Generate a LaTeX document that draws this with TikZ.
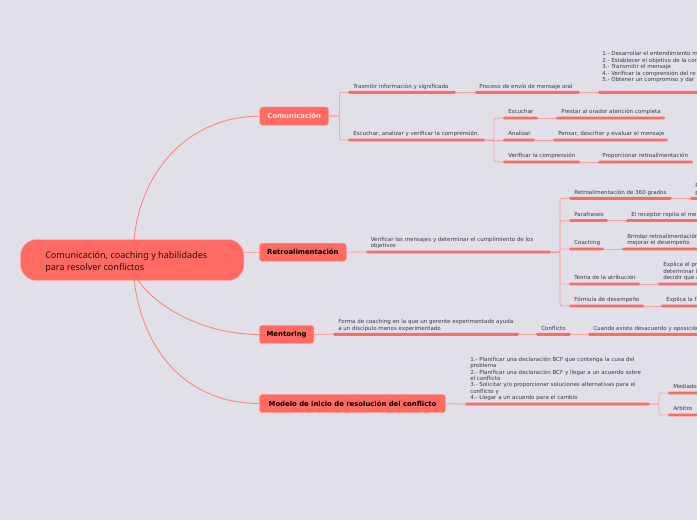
\documentclass[tikz,border=0pt]{standalone}
\usepackage{fontspec}
\setmainfont{DejaVu Sans}
\newfontfamily\titlefont{Noto Sans}
\definecolor{bgc}{HTML}{E1DFE8}
\definecolor{mainc}{HTML}{FF6B63}
\definecolor{linkc}{HTML}{FFA5A3}
\definecolor{curvec}{HTML}{FF7D76}
\definecolor{txtc}{HTML}{3C3A40}
\tikzset{
  bar/.style={fill=mainc,draw=none,rounded corners=1pt,inner sep=0pt,minimum height=2.2pt},
  leaftext/.style={anchor=south west,inner sep=0pt,align=left,text=txtc,font=\fontsize{4.15}{4.85}\selectfont,text depth=0.9pt},
  branch/.style={fill=mainc,draw=linkc,line width=0.3pt,rounded corners=2.2pt,inner sep=0pt,minimum height=13.8pt,font=\fontsize{5.15}{6}\selectfont\bfseries,text=black},
  link/.style={draw=linkc,line width=0.7pt,rounded corners=1.5pt},
  curve/.style={draw=curvec,line width=0.6pt}
}
\newcommand{\leaf}[6]{%
  \node[bar,minimum width={(#3-#2)*0.75pt}] (#1) at ({(#2+#3)/2},#4) {};
  \node[leaftext] (#1t) at (#5,#4-2.6) {#6};
}
\begin{document}
\begin{tikzpicture}[x=0.75pt,y=-0.75pt]
\useasboundingbox (0,0) rectangle (697,520);
\clip (0,0) rectangle (697,520);
\fill[bgc] (0,0) rectangle (697,520);
\coordinate (ra) at (134,241);
\coordinate (rb) at (134,279);
\coordinate (rc) at (137,279);
% root
\node[fill=mainc,draw=linkc,line width=0.3pt,rounded corners=12pt,minimum width=167.5pt,minimum height=30.7pt,inner sep=0pt] (root) at (132.25,260) {};
\node[anchor=west,inner sep=0pt,align=left,font=\titlefont\fontsize{6.8}{9}\selectfont,text=black!85!mainc] (roott) at (45,262) {Comunicación, coaching y habilidades\\para resolver conflictos};
% branches
\node[branch,minimum width=51.8pt,text=white!80!mainc] (b1) at (294.2,116.2) {Comunicación};
\node[branch,minimum width=65.2pt] (b2) at (302.9,252.3) {Retroalimentación};
\node[branch,minimum width=41pt] (b3) at (286.6,334.5) {Mentoring};
\node[branch,minimum width=139.6pt] (b4) at (352.5,403.5) {Modelo de inicio de resolución del conflicto};
\draw[curve] (ra) .. controls (140,170) and (190,116.2) .. (b1.west);
\draw[link] (root.east |- b2.west) -- (b2.west);
\draw[curve] (rc) .. controls (160,312) and (210,334.5) .. (b3.west);
\draw[curve] (rb) .. controls (143,355) and (190,403.5) .. (b4.west);
% Comunicacion
\leaf{c1}{348}{456}{92.3}{353}{Trasmitir información y significado}
\leaf{c2}{475}{580}{92.3}{479}{Proceso de envío de mensaje oral}
\leaf{c3}{598}{720}{92.3}{602}{1.- Desarrollar el entendimiento m\\2.- Establecer el objetivo de la cor\\3.- Transmitir el mensaje\\4.- Verificar la comprensión del re\\5.- Obtener un compromiso y dar\\\mbox{}}
\leaf{c4}{348}{485}{140}{353}{Escuchar, analizar y verificar la comprensión.}
\leaf{c5}{503}{538}{118}{508}{Escuchar}
\leaf{c6}{556}{665}{118}{561}{Prestar al orador atención completa}
\leaf{c7}{503}{535}{140}{508}{Analizar}
\leaf{c8}{553}{668}{140}{558}{Pensar, descifrar y evaluar el mensaje}
\leaf{c9}{503}{580}{162}{508}{Verificar la comprensión}
\leaf{c10}{598}{693}{162}{602}{Proporcionar retroalimentación}
% Retroalimentacion
\leaf{r0}{366}{551}{252}{370.5}{Verificar los mensajes y determinar el cumplimiento de los\\objetivos}
\leaf{r1}{569}{672}{198.3}{574}{Retroalimentación de 360 grados}
\leaf{r1b}{690}{720}{198.3}{695}{P\\p}
\leaf{r2}{569}{608}{220.5}{574}{Parafraseo}
\leaf{r2b}{626}{720}{220.5}{631}{El receptor repita el me}
\leaf{r3}{569}{604}{249}{574}{Coaching}
\leaf{r3b}{622}{720}{249}{627}{Brindar retroalimentación\\mejorar el desempeño}
\leaf{r4}{569}{640}{284}{574}{Teoría de la atribución}
\leaf{r4b}{658}{720}{284}{663}{Explica el pr\\determinar l\\decidir que a}
\leaf{r5}{569}{644}{306}{574}{Fórmula de desempeño}
\leaf{r5b}{661}{720}{306}{666}{Explica la f}
% Mentoring
\leaf{m1}{333}{519}{334.3}{338}{Forma de coaching en la que un gerente experimentado ayuda\\a un discípulo menos experimentado}
\leaf{m2}{536}{571}{334.3}{541}{Conflicto}
\leaf{m3}{588}{720}{334.3}{593}{Cuando existe desacuerdo y oposición}
% Modelo
\leaf{d1}{465}{650}{404}{470}{1.- Planificar una declaración BCF que contenga la cusa del\\problema\\2.- Planificar una declaración BCF y llegar a un acuerdo sobre\\el conflicto\\3.- Solicitar y/o proporcionar soluciones alternativas para el\\conflicto y\\4.- Llegar a un acuerdo para el cambio}
\leaf{d2}{668}{720}{393}{673}{Mediador}
\leaf{d3}{668}{720}{415}{673}{Arbitro}
% connectors
\draw[link] (b1.east) -- (339.5,116.2) |- (c1.west);
\draw[link] (b1.east) -- (339.5,116.2) |- (c4.west);
\draw[link] (c1) -- (c2);
\draw[link] (c2) -- (c3);
\draw[link] (c4.east) -- (c7.west);
\draw[link] (c4.east) -- (494,140) |- (c5.west);
\draw[link] (c4.east) -- (494,140) |- (c9.west);
\draw[link] (c5) -- (c6);
\draw[link] (c7) -- (c8);
\draw[link] (c9) -- (c10);
\draw[link] (b2.east) -- (r0.west);
\draw[link] (r0.east) -- (560,252) |- (r1.west);
\draw[link] (r0.east) -- (560,252) |- (r2.west);
\draw[link] (r0.east) -- (560,252) |- (r3.west);
\draw[link] (r0.east) -- (560,252) |- (r4.west);
\draw[link] (r0.east) -- (560,252) |- (r5.west);
\draw[link] (r1) -- (r1b);
\draw[link] (r2) -- (r2b);
\draw[link] (r3) -- (r3b);
\draw[link] (r4) -- (r4b);
\draw[link] (r5) -- (r5b);
\draw[link] (b3.east) -- (m1.west);
\draw[link] (m1) -- (m2);
\draw[link] (m2) -- (m3);
\draw[link] (b4.east) -- (d1.west);
\draw[link] (d1.east) -- (659,404) |- (d2.west);
\draw[link] (d1.east) -- (659,404) |- (d3.west);
\end{tikzpicture}
\end{document}
